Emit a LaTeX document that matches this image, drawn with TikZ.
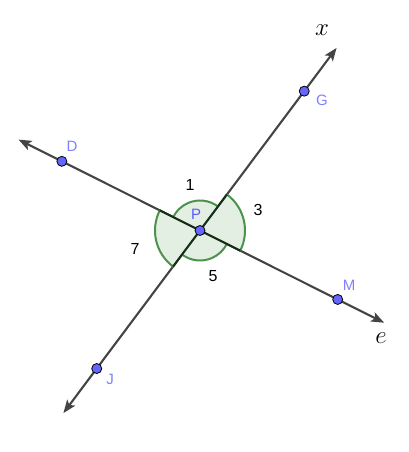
\documentclass[tikz,border=0pt]{standalone}
\usepackage{fontspec}
\setsansfont{Liberation Sans}
\usetikzlibrary{arrows.meta,calc}
\definecolor{linegray}{RGB}{68,68,68}
\definecolor{ptfill}{RGB}{102,102,255}
\definecolor{ptlabel}{RGB}{128,128,255}
\definecolor{plabel}{RGB}{90,90,255}
\definecolor{angfill}{RGB}{228,239,228}
\definecolor{angarc}{RGB}{76,145,76}
\definecolor{angedge}{RGB}{22,48,22}
\tikzset{
  axisline/.style={draw=linegray, line width=2.1pt, {Stealth[length=13pt,width=10pt,inset=3pt]}-{Stealth[length=13pt,width=10pt,inset=3pt]}},
  ptdot/.style={circle, draw=black, fill=ptfill, line width=0.8pt, inner sep=0pt, minimum size=10pt},
  ptname/.style={text=ptlabel, font=\sffamily\fontsize{15}{15}\selectfont, inner sep=0pt},
  angname/.style={text=black, font=\sffamily\fontsize{16}{16}\selectfont, inner sep=0pt},
  linename/.style={font=\fontsize{23}{23}\selectfont, inner sep=0pt},
  sectorfill/.style={fill=angfill},
  sectorarc/.style={draw=angarc, line width=2pt},
  sectoredge/.style={draw=angedge, line width=2.1pt},
}
\begin{document}
\begin{tikzpicture}[x=1pt,y=1pt]
\useasboundingbox (0,0) rectangle (408,452);
\coordinate (P) at (200,221.5);
\coordinate (xT) at ($(P)+(53.2:228)$);
\coordinate (xB) at ($(P)+(233.2:228)$);
\coordinate (eL) at ($(P)+(153.4:203)$);
\coordinate (eR) at ($(P)+(-26.6:206)$);
\coordinate (Gc) at ($(P)+(53.2:174)$);
\coordinate (Dc) at ($(P)+(153.4:154.5)$);
\coordinate (Mc) at ($(P)+(-26.6:154)$);
\coordinate (Jc) at ($(P)+(233.2:172.4)$);
% lines
\draw[axisline] (xB) -- (xT);
\draw[axisline] (eL) -- (eR);
% sectors fills
\fill[sectorfill] (P) -- ++(-26.6:45) arc[start angle=-26.6,end angle=53.2,radius=45] -- cycle;
\fill[sectorfill] (P) -- ++(153.4:45) arc[start angle=153.4,end angle=233.2,radius=45] -- cycle;
\fill[sectorfill] (P) -- ++(53.2:30) arc[start angle=53.2,end angle=153.4,radius=30] -- cycle;
\fill[sectorfill] (P) -- ++(233.2:30) arc[start angle=233.2,end angle=333.4,radius=30] -- cycle;
% arcs
\draw[sectorarc] ($(P)+(-26.6:45)$) arc[start angle=-26.6,end angle=53.2,radius=45];
\draw[sectorarc] ($(P)+(153.4:45)$) arc[start angle=153.4,end angle=233.2,radius=45];
\draw[sectorarc] ($(P)+(53.2:30)$) arc[start angle=53.2,end angle=153.4,radius=30];
\draw[sectorarc] ($(P)+(233.2:30)$) arc[start angle=233.2,end angle=333.4,radius=30];
% radial edges
\draw[sectoredge] ($(P)+(53.2:45)$) -- ($(P)+(233.2:45)$);
\draw[sectoredge] ($(P)+(153.4:45)$) -- ($(P)+(-26.6:45)$);
% points
\node[ptdot] (P0) at (P) {};
\node[ptdot] (G) at (Gc) {};
\node[ptdot] (D) at (Dc) {};
\node[ptdot] (M) at (Mc) {};
\node[ptdot] (J) at (Jc) {};
% labels
\node[ptname, text=plabel] (Pl) at (196,238) {P};
\node[ptname] (Gl) at (322,352) {G};
\node[ptname] (Dl) at (72,306) {D};
\node[ptname] (Ml) at (349,167) {M};
\node[ptname] (Jl) at (110,73) {J};
\node[angname] (a1) at (190,267) {1};
\node[angname] (a3) at (258,242) {3};
\node[angname] (a5) at (213,176) {5};
\node[angname] (a7) at (135,203) {7};
\node[linename] (xl) at (322,421.5) {$x$};
\node[linename] (el) at (381,114) {$e$};
\end{tikzpicture}
\end{document}
